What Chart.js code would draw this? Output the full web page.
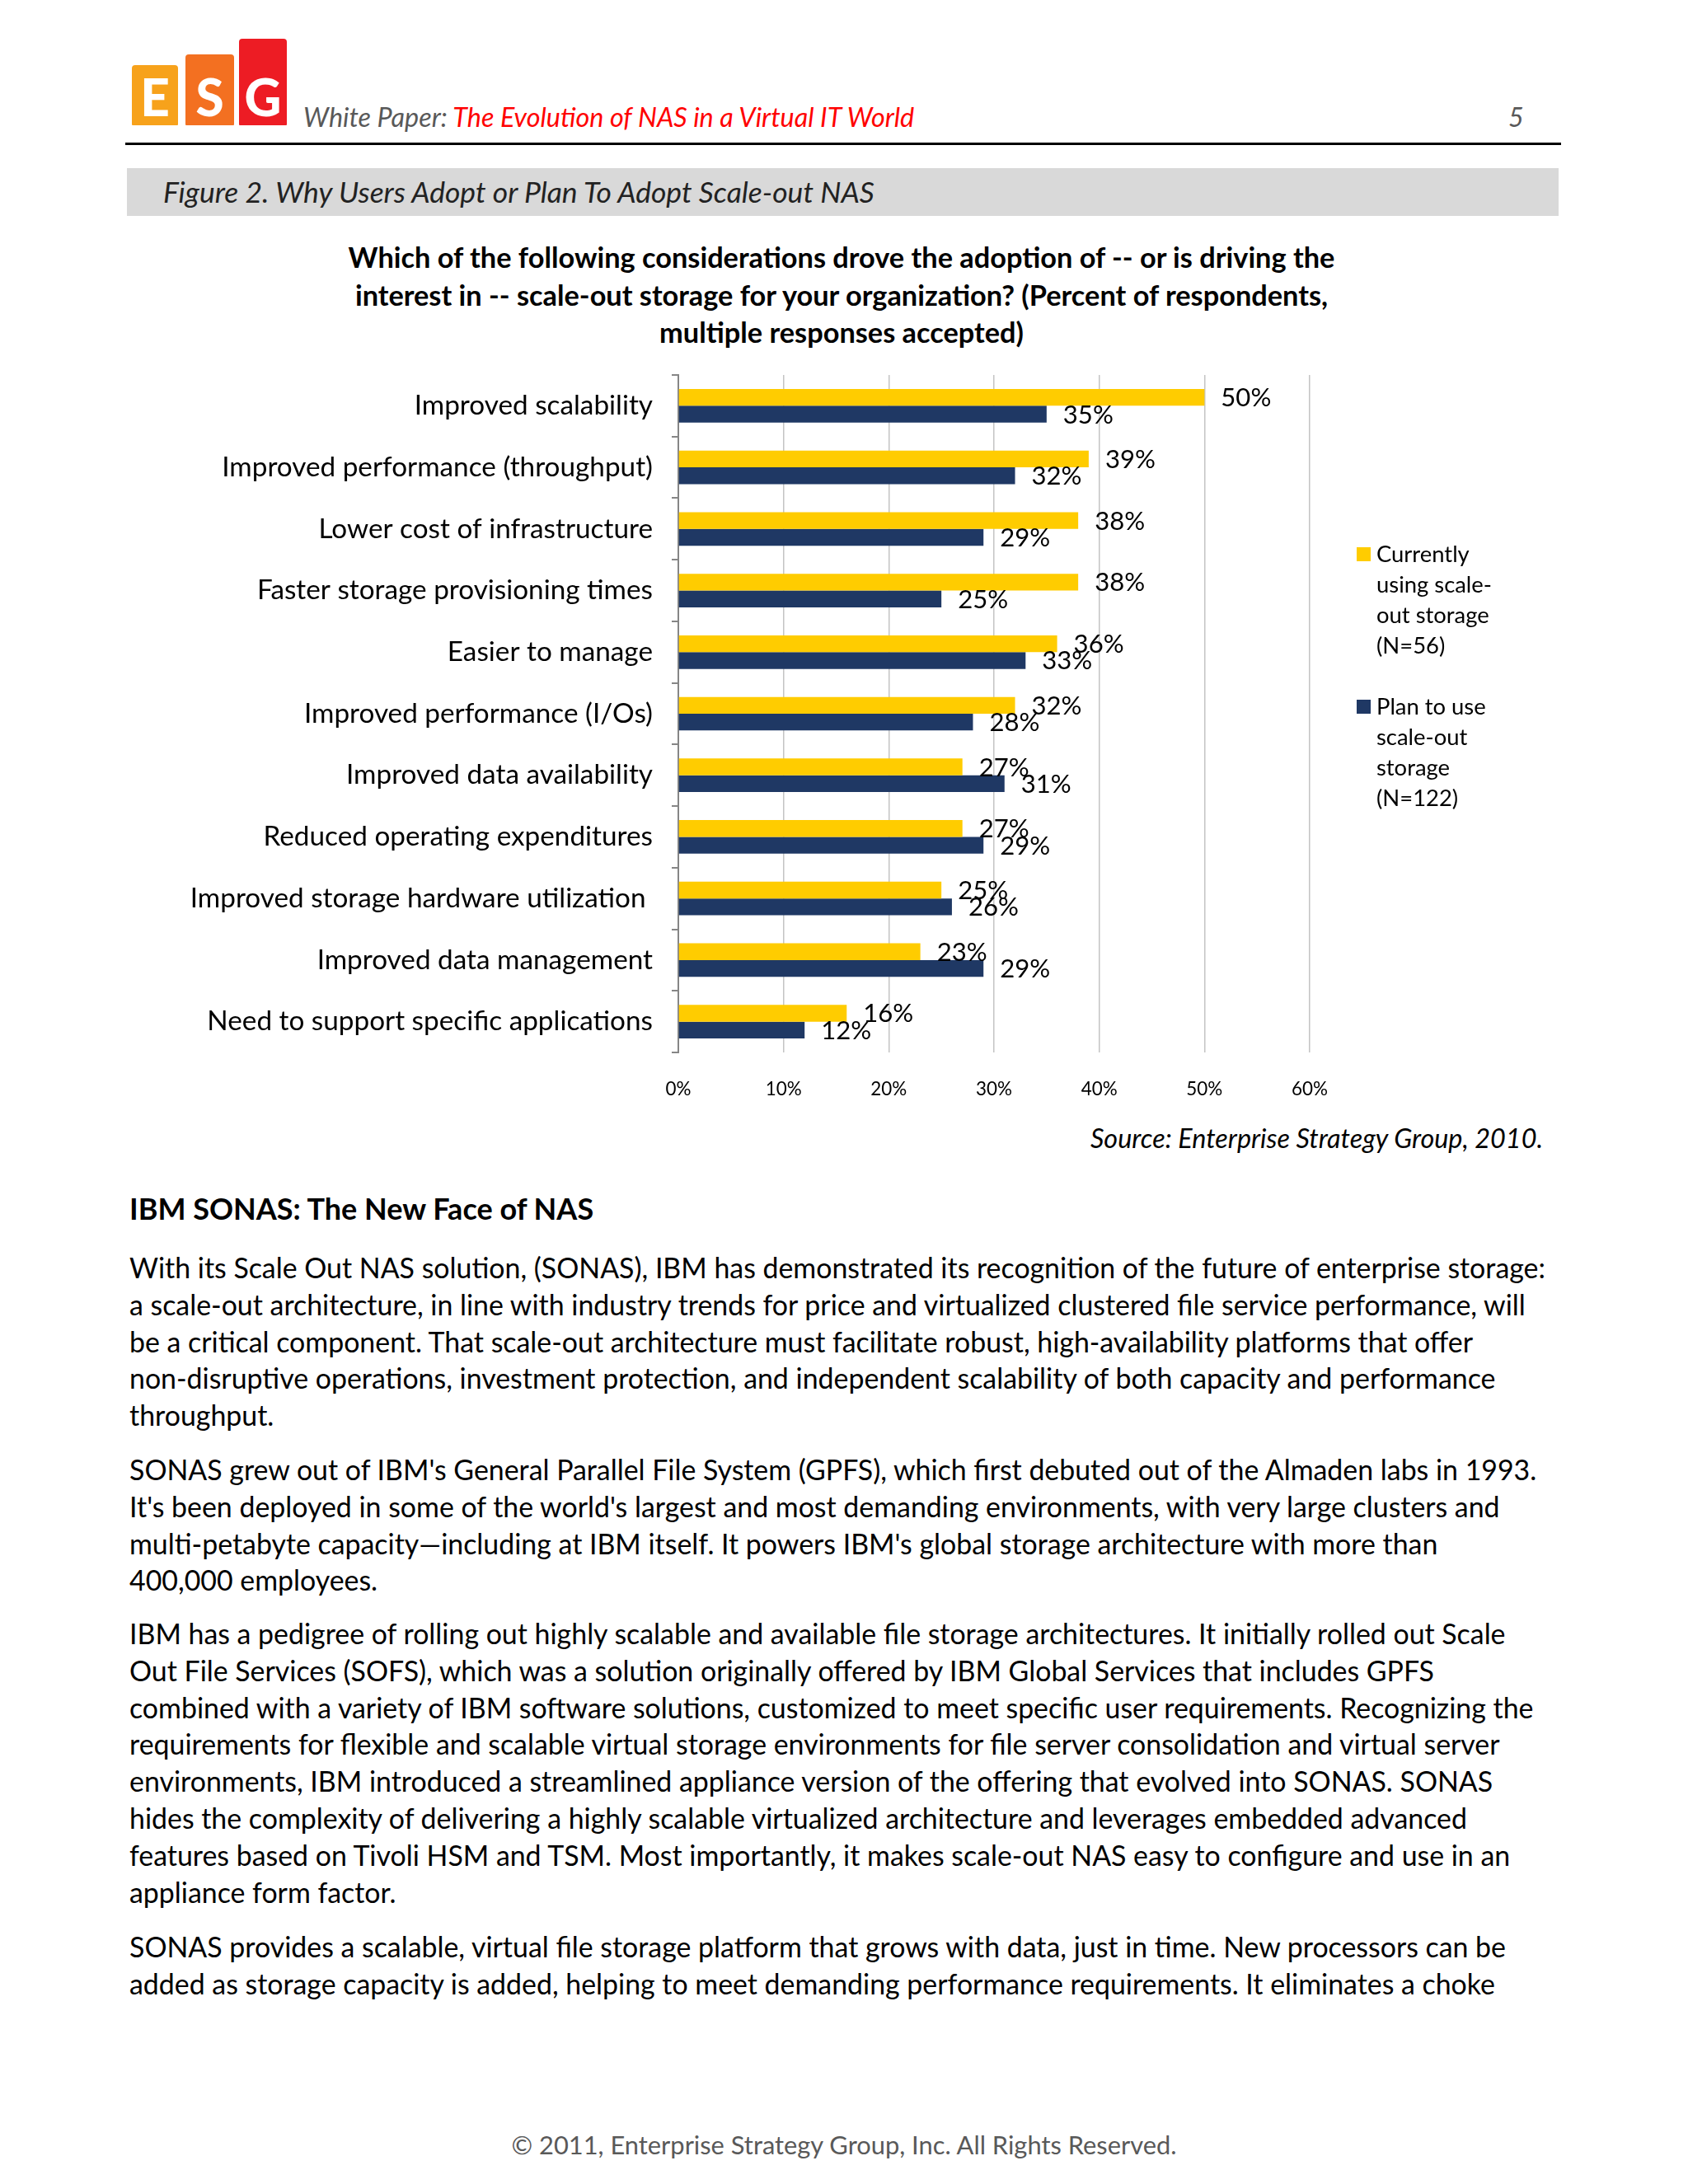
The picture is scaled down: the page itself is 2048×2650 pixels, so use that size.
<!DOCTYPE html>
<html>
<head>
<meta charset="utf-8">
<script src="https://cdn.jsdelivr.net/npm/chart.js@4.4.1/dist/chart.umd.min.js"></script>
<style>
  html, body { margin: 0; padding: 0; background: #fff; }
  body { width: 2048px; height: 2650px; position: relative; font-family: Lato, "Open Sans", sans-serif; color: #000; }
  .abs { position: absolute; white-space: nowrap; }
  .blk { position: absolute; border-radius: 4px 4px 1px 1px; color: #fff; font-weight: 900; font-size: 62px;
         text-align: center; line-height: 1; }
  .blk span { position: absolute; left: 0; right: 0; bottom: 4px; }
  #hdr { left: 368px; top: 122px; line-height: 40px; font-style: italic; color: #595959; }
  #hdr .red { color: #ff0000; }
  #pageno { left: 1830px; top: 122px; line-height: 40px; font-style: italic; color: #595959; }
  #rule { left: 152px; top: 173px; width: 1742px; height: 3px; background: #000; }
  #band { left: 154px; top: 204px; width: 1737px; height: 58px; background: #d9d9d9; }
  #caption { left: 198px; top: 213px; line-height: 40px; font-style: italic; color: #222; }
  #qtitle { left: 421px; top: 289px; width: 1200px; text-align: center; font-weight: 700; line-height: 45.5px; }
  #chartBox { position: absolute; left: 200px; top: 439px; width: 1460px; height: 921px; }
  #legend { left: 1646px; top: 653px; line-height: 37px; }
  .lg { position: relative; padding-left: 24px; }
  .lg i { position: absolute; left: 0; top: 11px; width: 17px; height: 17px; }
  #source { right: 176px; top: 1361px; line-height: 40px; font-style: italic; }
  #heading { left: 157px; top: 1444px; line-height: 44px; font-weight: 700; }
  .para { left: 157px; line-height: 44.8px; }
  #footer { left: 0; width: 2048px; text-align: center; top: 2583px; line-height: 40px; color: #595959; }
</style>
</head>
<body>
<div class="blk" style="left:160px; top:79px; width:56px; height:73px; background:#f7a21b;"><span>E</span></div>
<div class="blk" style="left:225px; top:66px; width:59px; height:86px; background:#f37021;"><span>S</span></div>
<div class="blk" style="left:290px; top:47px; width:58px; height:105px; background:#ed1c24;"><span>G</span></div>
<div id="hdr" class="abs">White Paper: <span class="red">The Evolution of NAS in a Virtual IT World</span></div>
<div id="pageno" class="abs">5</div>
<div id="rule" class="abs"></div>
<div id="band" class="abs"></div>
<div id="caption" class="abs">Figure 2. Why Users Adopt or Plan To Adopt Scale-out NAS</div>

<div id="qtitle" class="abs">
  <div id="qline1">Which of the following considerations drove the adoption of -- or is driving the</div>
  <div>interest in -- scale-out storage for your organization? (Percent of respondents,</div>
  <div>multiple responses accepted)</div>
</div>

<div id="chartBox"><canvas id="chart"></canvas></div>

<div id="legend" class="abs">
  <div class="lg"><i style="background:#ffcc00"></i>Currently<br><span id="lgfit">using scale-</span><br>out storage<br>(N=56)</div>
  <div class="lg" style="margin-top:37px"><i style="background:#1f3864"></i>Plan to use<br>scale-out<br>storage<br>(N=122)</div>
</div>

<div id="source" class="abs">Source: Enterprise Strategy Group, 2010.</div>
<div id="heading" class="abs">IBM SONAS: The New Face of NAS</div>

<div class="abs para body" style="top:1516px">
  <div id="bodyfit">With its Scale Out NAS solution, (SONAS), IBM has demonstrated its recognition of the future of enterprise storage:</div>
  <div>a scale-out architecture, in line with industry trends for price and virtualized clustered file service performance, will</div>
  <div>be a critical component. That scale-out architecture must facilitate robust, high-availability platforms that offer</div>
  <div>non-disruptive operations, investment protection, and independent scalability of both capacity and performance</div>
  <div>throughput.</div>
</div>
<div class="abs para body" style="top:1761px">
  <div>SONAS grew out of IBM's General Parallel File System (GPFS), which first debuted out of the Almaden labs in 1993.</div>
  <div>It's been deployed in some of the world's largest and most demanding environments, with very large clusters and</div>
  <div>multi-petabyte capacity—including at IBM itself. It powers IBM's global storage architecture with more than</div>
  <div>400,000 employees.</div>
</div>
<div class="abs para body" style="top:1960px">
  <div>IBM has a pedigree of rolling out highly scalable and available file storage architectures. It initially rolled out Scale</div>
  <div>Out File Services (SOFS), which was a solution originally offered by IBM Global Services that includes GPFS</div>
  <div>combined with a variety of IBM software solutions, customized to meet specific user requirements. Recognizing the</div>
  <div>requirements for flexible and scalable virtual storage environments for file server consolidation and virtual server</div>
  <div>environments, IBM introduced a streamlined appliance version of the offering that evolved into SONAS. SONAS</div>
  <div>hides the complexity of delivering a highly scalable virtualized architecture and leverages embedded advanced</div>
  <div>features based on Tivoli HSM and TSM. Most importantly, it makes scale-out NAS easy to configure and use in an</div>
  <div>appliance form factor.</div>
</div>
<div class="abs para body" style="top:2340px">
  <div>SONAS provides a scalable, virtual file storage platform that grows with data, just in time. New processors can be</div>
  <div>added as storage capacity is added, helping to meet demanding performance requirements. It eliminates a choke</div>
</div>

<div id="footer" class="abs">© 2011, Enterprise Strategy Group, Inc. All Rights Reserved.</div>

<script>
// survey answers, top to bottom
const considerations = [
  'Improved scalability',
  'Improved performance (throughput)',
  'Lower cost of infrastructure',
  'Faster storage provisioning times',
  'Easier to manage',
  'Improved performance (I/Os)',
  'Improved data availability',
  'Reduced operating expenditures',
  'Improved storage hardware utilization ',
  'Improved data management',
  'Need to support specific applications'
];
const currentlyUsing = [50, 39, 38, 38, 36, 32, 27, 27, 25, 23, 16];
const planToUse = [35, 32, 29, 25, 33, 28, 31, 29, 26, 29, 12];
const seriesNames = ['Currently using scale-out storage (N=56)', 'Plan to use scale-out storage (N=122)'];
const xTicks = [0, 10, 20, 30, 40, 50, 60];

// text sizing against the widths measured on the reference
const mctx = document.createElement('canvas').getContext('2d');
function sizeFor(text, font, target) {
  mctx.font = font + ' 100px Lato';
  return 100 * target / mctx.measureText(text).width;
}
function fitEl(el, target, others) {
  const cs = getComputedStyle(el);
  const s = sizeFor(el.textContent, cs.fontStyle + ' ' + cs.fontWeight, target);
  (others || [el]).forEach(e => e.style.fontSize = s + 'px');
}
fitEl(document.getElementById('hdr'), 745, [document.getElementById('hdr'), document.getElementById('pageno')]);
fitEl(document.getElementById('caption'), 868);
fitEl(document.getElementById('qline1'), 1199, [document.getElementById('qtitle')]);
fitEl(document.getElementById('lgfit'), 140, [document.getElementById('legend')]);
fitEl(document.getElementById('source'), 550);
fitEl(document.getElementById('heading'), 566);
fitEl(document.getElementById('bodyfit'), 1720, Array.from(document.querySelectorAll('.body')));
fitEl(document.getElementById('footer'), 809);
document.getElementById('footer').style.fontSize = sizeFor('© 2011, Enterprise Strategy Group, Inc. All Rights Reserved.', 'normal 400', 809) + 'px';

const catSize = sizeFor('Improved performance (throughput)', 'normal 400', 523);
const valSize = sizeFor('50%', 'normal 400', 61);
const tickSize = sizeFor('10%', 'normal 400', 44);

// value labels at the end of each bar
const barLabels = {
  id: 'barLabels',
  afterDatasetsDraw(chart) {
    const ctx = chart.ctx;
    ctx.save();
    ctx.font = valSize + 'px Lato';
    ctx.fillStyle = '#000';
    ctx.textBaseline = 'middle';
    ctx.textAlign = 'left';
    chart.data.datasets.forEach((ds, i) => {
      chart.getDatasetMeta(i).data.forEach((bar, j) => {
        ctx.fillText(ds.data[j] + '%', bar.x + 20, bar.y + 1);
      });
    });
    ctx.restore();
  }
};

new Chart(document.getElementById('chart'), {
  type: 'bar',
  data: {
    labels: considerations,
    datasets: [
      { label: seriesNames[0], data: currentlyUsing, backgroundColor: '#ffcc00' },
      { label: seriesNames[1], data: planToUse, backgroundColor: '#1f3864' }
    ]
  },
  options: {
    indexAxis: 'y',
    responsive: true,
    maintainAspectRatio: false,
    animation: false,
    categoryPercentage: 0.545,
    barPercentage: 1.0,
    layout: { padding: { top: 16, right: 71, left: 0, bottom: 0 } },
    plugins: { legend: { display: false }, tooltip: { enabled: false } },
    scales: {
      x: {
        min: xTicks[0],
        max: xTicks[xTicks.length - 1],
        afterFit: s => { s.height = 83; s.paddingLeft = 0; s.paddingRight = 0; },
        afterBuildTicks: s => { s.ticks = xTicks.map(v => ({ value: v })); },
        border: { display: false },
        grid: { color: '#c4c4c4', lineWidth: 1.5, drawTicks: false },
        ticks: { padding: 31, color: '#000', font: { family: 'Lato', size: tickSize }, callback: v => v + '%' }
      },
      y: {
        afterFit: s => { s.width = 623; s.paddingTop = 0; s.paddingBottom = 0; },
        border: { color: '#868686', width: 2 },
        grid: { offset: true, drawOnChartArea: false, drawTicks: true, tickLength: 8, color: '#868686', lineWidth: 2 },
        ticks: { padding: 23, color: '#000', autoSkip: false, font: { family: 'Lato', size: catSize } }
      }
    }
  },
  plugins: [barLabels]
});
</script>
</body>
</html>
